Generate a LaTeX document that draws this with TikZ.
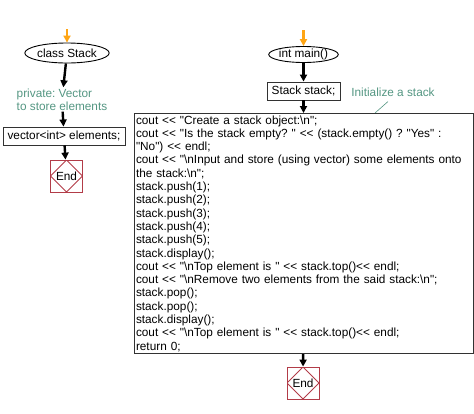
\documentclass[tikz,border=0pt]{standalone}
\usepackage{fontspec}
\setmainfont{Liberation Sans}[Ligatures=TeXOff]
\usepackage{xcolor}
\definecolor{fcorange}{RGB}{255,165,20}
\definecolor{fcteal}{RGB}{84,150,130}
\definecolor{fcred}{RGB}{178,60,72}
\definecolor{fcgray}{RGB}{50,50,50}
\usetikzlibrary{arrows.meta,positioning,shapes.geometric,calc}
\frenchspacing

\begin{document}
\begin{tikzpicture}[x=1pt,y=-1pt,font=\fontsize{11.8}{13.3}\selectfont,
  flow/.style={-{Triangle[width=7pt,length=7pt]},line width=2.4pt},
  entry/.style={flow,fcorange},
  term/.style={draw=black,ellipse,line width=0.9pt,inner sep=0pt},
  stmt/.style={draw=fcgray,line width=0.9pt,inner sep=2pt},
  note/.style={text=fcteal,align=left,inner sep=1pt},
  endbox/.style={draw=fcred,line width=0.8pt,minimum width=32pt,minimum height=32pt,inner sep=0pt,
    path picture={\draw[fcred,line width=0.8pt] (path picture bounding box.north) -- (path picture bounding box.east)
      -- (path picture bounding box.south) -- (path picture bounding box.west) -- cycle;}}]
  \useasboundingbox (0,0) rectangle (474,413);
  % class Stack
  \coordinate (clsin) at (67,29);
  \node[term,minimum width=78pt,minimum height=20pt] (cls) at (67,53) {class Stack};
  \node[note] (priv) at (62,99.5) {private: Vector\\to store elements};
  \node[stmt,minimum width=122pt,minimum height=18pt] (vec) at (64,136) {vector<int> elements;};
  \node[endbox] (end1) at (66.5,176) {End};
  \draw[entry] (clsin) -- (cls);
  \draw[flow] (cls) -- (priv);
  \draw[flow] (priv) -- (vec);
  \draw[flow] (vec) -- (end1);
  % int main()
  \coordinate (mainin) at (303.5,30);
  \node[term,minimum width=67pt,minimum height=16pt] (main) at (303.5,54.5) {int main()};
  \node[stmt,minimum width=73pt,minimum height=18pt] (stk) at (303.5,91) {Stack stack;};
  \node[note] (init) at (393,92) {Initialize a stack};
  \node[stmt,anchor=north,text width=335pt,minimum height=240pt,align=left,inner sep=2pt] (code) at (303.5,113) {%
cout << "Create a stack object:\textbackslash n";\\
cout << "Is the stack empty? " << (stack.empty() ? "Yes" :\\
"No") << endl;\\
cout << "\textbackslash nInput and store (using vector) some elements onto\\
the stack:\textbackslash n";\\
stack.push(1);\\
stack.push(2);\\
stack.push(3);\\
stack.push(4);\\
stack.push(5);\\
stack.display();\\
cout << "\textbackslash nTop element is " << stack.top()<< endl;\\
cout << "\textbackslash nRemove two elements from the said stack:\textbackslash n";\\
stack.pop();\\
stack.pop();\\
stack.display();\\
cout << "\textbackslash nTop element is " << stack.top()<< endl;\\
return 0;};
  \node[endbox] (end2) at (303,383) {End};
  \draw[entry] (mainin) -- (main);
  \draw[flow] (main) -- (stk);
  \draw[flow] (stk) -- (code);
  \draw[flow] (code) -- (end2);
  \draw[fcteal,line width=0.6pt] ([xshift=-5pt,yshift=-4pt]init.south) -- ([xshift=71.5pt]code.north);
\end{tikzpicture}
\end{document}
